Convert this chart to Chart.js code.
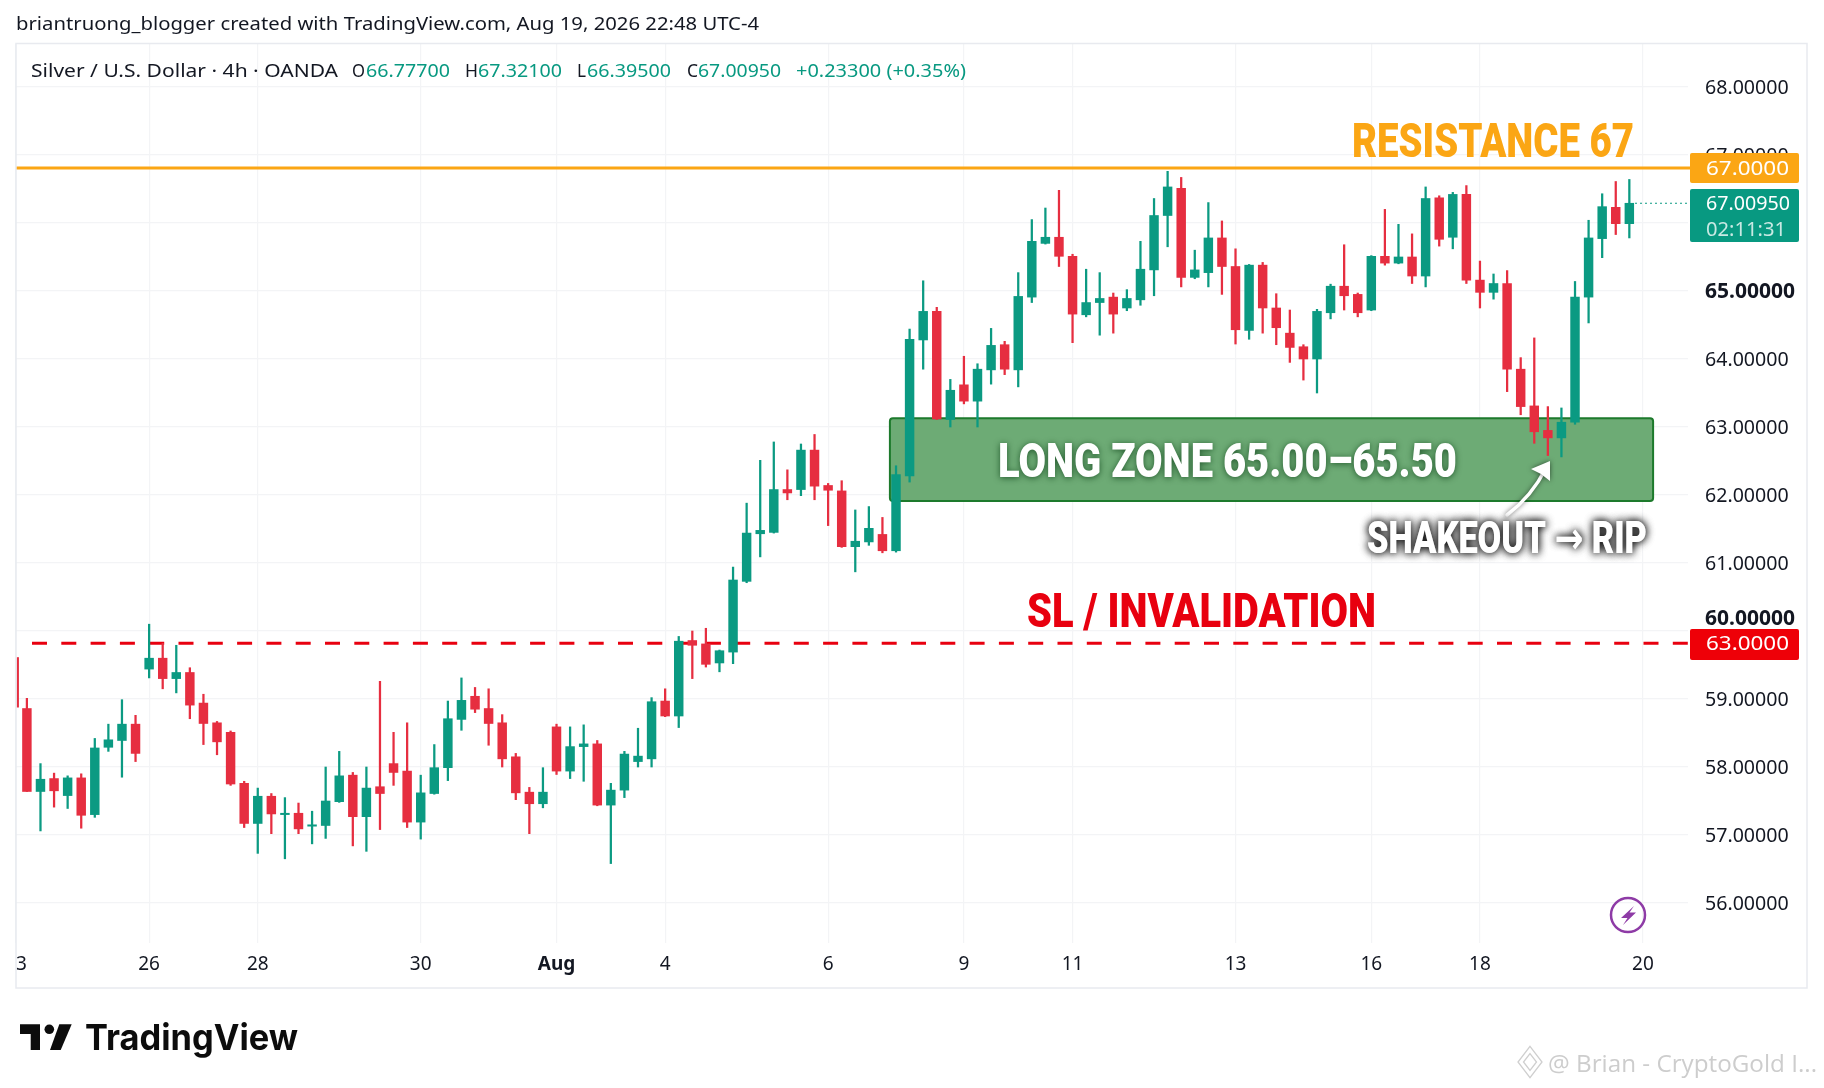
<!DOCTYPE html>
<html>
<head>
<meta charset="utf-8">
<title>Silver / U.S. Dollar 4h</title>
<script src="https://cdn.jsdelivr.net/npm/chart.js@4/dist/chart.umd.min.js"></script>
<style>
html,body{margin:0;padding:0;background:#fff}
canvas{display:block}
</style>
</head>
<body>
<canvas id="c" width="1824" height="1088" style="width:1824px;height:1088px"></canvas>
<script>
const opens = [null,58.86,57.64,57.83,57.58,57.84,57.30,58.29,58.39,58.63,
59.44,59.60,59.30,59.39,58.94,58.65,58.51,57.76,57.17,57.57,
57.30,57.32,57.13,57.14,57.49,57.88,57.27,57.71,58.05,57.94,
57.19,57.61,57.99,58.70,59.04,58.86,58.65,58.15,57.63,57.46,
58.59,57.94,58.30,58.34,57.44,57.66,58.08,58.12,58.97,58.75,
59.86,59.81,59.53,59.69,60.73,61.43,61.45,62.08,62.08,62.66,
62.14,62.06,61.24,61.31,61.42,61.18,62.28,64.28,64.70,63.11,
63.62,63.38,63.84,64.21,63.84,64.91,65.70,65.79,65.51,64.65,
64.83,64.91,64.75,64.87,65.31,66.11,66.51,65.20,65.27,65.78,
65.36,64.42,65.38,64.75,64.38,64.18,64.00,64.68,65.07,64.95,
64.72,65.51,65.41,65.50,65.22,66.37,65.79,66.42,65.16,64.98,
65.11,63.85,63.31,62.95,62.84,63.07,64.91,65.77,66.23,65.99];
const closes = [null,57.64,57.82,57.65,57.84,57.29,58.28,58.40,58.63,58.20,
59.60,59.30,59.39,58.91,58.64,58.37,57.75,57.17,57.57,57.31,
57.32,57.09,57.15,57.50,57.87,57.27,57.69,57.61,57.92,57.19,
57.62,57.99,58.71,58.98,58.85,58.64,58.12,57.62,57.46,57.63,
57.94,58.30,58.34,57.44,57.66,58.19,58.16,58.96,58.75,59.85,
59.79,59.51,59.71,60.75,61.44,61.48,62.08,62.03,62.66,62.13,
62.07,61.24,61.32,61.51,61.18,62.30,64.29,64.70,63.12,63.54,
63.38,63.85,64.20,63.85,64.92,65.73,65.79,65.51,64.66,64.83,
64.89,64.66,64.89,65.32,66.11,66.53,65.20,65.31,65.78,65.36,
64.43,65.38,64.75,64.46,64.17,64.00,64.70,65.07,64.93,64.68,
65.51,65.41,65.50,65.22,66.36,65.76,66.42,65.16,64.98,65.11,
63.85,63.30,62.93,62.84,63.07,64.91,65.78,66.24,65.99,66.29];
const highs = [59.61,59.01,58.05,57.91,57.87,57.90,58.42,58.63,58.99,58.76,
60.10,59.82,59.79,59.46,59.07,58.67,58.53,57.79,57.69,57.61,
57.55,57.47,57.35,58.00,58.23,57.92,58.00,59.26,58.51,58.65,
57.88,58.33,58.97,59.31,59.17,59.15,58.77,58.20,57.70,57.99,
58.63,58.59,58.62,58.39,57.76,58.23,58.57,59.02,59.15,59.92,
60.00,60.04,59.72,60.94,61.88,62.51,62.78,62.37,62.75,62.89,
62.17,62.21,61.78,61.83,61.67,62.43,64.44,65.15,64.76,63.70,
64.04,63.93,64.45,64.26,65.27,66.05,66.22,66.48,65.54,65.32,
65.27,64.97,65.02,65.73,66.36,66.76,66.67,65.60,66.30,66.03,
65.62,65.39,65.42,64.96,64.72,64.21,64.73,65.10,65.68,64.97,
65.52,66.20,65.98,65.84,66.53,66.40,66.45,66.55,65.44,65.25,
65.30,64.02,64.31,63.30,63.28,65.14,66.04,66.43,66.61,66.64];
const lows = [58.88,57.64,57.06,57.41,57.39,57.10,57.26,58.23,57.85,58.08,
59.31,59.15,59.09,58.71,58.33,58.18,57.73,57.11,56.73,57.02,
56.65,57.02,56.87,56.95,57.48,56.84,56.76,57.08,57.73,57.11,
56.94,57.60,57.80,58.54,58.80,58.32,58.00,57.52,57.02,57.40,
57.89,57.83,57.79,57.43,56.58,57.55,58.00,58.00,58.74,58.58,
59.30,59.47,59.40,59.52,60.71,61.09,61.44,61.93,61.99,61.93,
61.55,61.23,60.87,61.26,61.15,61.16,62.19,63.85,63.11,63.00,
63.34,63.00,63.63,63.77,63.59,64.83,65.69,65.36,64.24,64.62,
64.35,64.38,64.71,64.79,64.93,65.65,65.06,65.18,65.06,64.95,
64.22,64.29,64.38,64.21,63.95,63.69,63.50,64.59,64.72,64.62,
64.71,65.38,65.40,65.11,65.06,65.66,65.62,65.11,64.75,64.88,
63.52,63.18,62.76,62.58,62.56,63.04,64.53,65.49,65.83,65.78];
// first bar is cut by the pane edge, so it sits a third of a bar right of slot 0
const barSlots = opens.map((_, i) => i === 0 ? 0.33 : i);

const timeTickSlots  = [0.1974, 10, 18, 30, 40, 48, 60, 70, 78, 90, 100, 108, 120];
const timeTickLabels = ['23', '26', '28', '30', 'Aug', '4', '6', '9', '11', '13', '16', '18', '20'];
const priceTicks = [56, 57, 58, 59, 60, 61, 62, 63, 64, 65, 66, 67, 68];

const resistanceLevel = 66.81;
const stopLevel = 59.82;
const zoneTop = 63.13, zoneBottom = 61.91;
const zoneStartSlot = 64.55, zoneEndSlot = 120.75;
const lastPrice = 66.29;

const UP = '#0b9a82', DOWN = '#e62e40';
const isUp = i => closes[i] >= opens[i];
const uiFont = '"Noto Sans","Open Sans",sans-serif';
const condFont = 'Roboto,"DejaVu Sans",sans-serif';

function fit(ctx, text, x, y, w, font, color) {
  ctx.save();
  ctx.font = font; ctx.fillStyle = color; ctx.textBaseline = 'alphabetic'; ctx.textAlign = 'left';
  const m = ctx.measureText(text).width;
  ctx.translate(x, y); ctx.scale(w / m, 1);
  ctx.fillText(text, 0, 0);
  ctx.restore();
}
function roundBox(ctx, x, y, w, h, r, color) {
  ctx.fillStyle = color;
  ctx.beginPath(); ctx.roundRect(x, y, w, h, r); ctx.fill();
}

const tvPlugin = {
  id: 'tv',
  beforeDraw(chart) {
    const ctx = chart.ctx, ys = chart.scales.y;
    ctx.save();
    ctx.fillStyle = '#ffffff'; ctx.fillRect(0, 0, 1824, 1088);
    ctx.restore();
    ys.getLabelItems().forEach((item, i) => {
      const raised = item.label === '60.00000' ? 13 : 0;
      item.options.translation[1] = ys.getPixelForValue(priceTicks[i]) + 1.5 - raised;
    });
  },
  beforeDatasetsDraw(chart) {
    const ctx = chart.ctx, xs = chart.scales.x, ys = chart.scales.y, a = chart.chartArea;
    ctx.save();
    // resistance line
    const ry = ys.getPixelForValue(resistanceLevel);
    ctx.strokeStyle = '#fba614'; ctx.lineWidth = 3;
    ctx.beginPath(); ctx.moveTo(a.left, ry); ctx.lineTo(1690, ry); ctx.stroke();
    // stop line
    const sy = ys.getPixelForValue(stopLevel);
    ctx.strokeStyle = '#e8000f'; ctx.lineWidth = 3.2; ctx.setLineDash([15, 14.3]);
    ctx.beginPath(); ctx.moveTo(32, sy); ctx.lineTo(1690, sy); ctx.stroke();
    ctx.setLineDash([]);
    // long zone
    const zx0 = xs.getPixelForValue(zoneStartSlot), zx1 = xs.getPixelForValue(zoneEndSlot);
    const zy0 = ys.getPixelForValue(zoneTop), zy1 = ys.getPixelForValue(zoneBottom);
    ctx.fillStyle = '#6dab75'; ctx.strokeStyle = '#1d7a2c'; ctx.lineWidth = 2;
    ctx.beginPath(); ctx.roundRect(zx0, zy0, zx1 - zx0, zy1 - zy0, 3); ctx.fill(); ctx.stroke();
    // last price dotted
    const ly = ys.getPixelForValue(lastPrice);
    ctx.strokeStyle = UP; ctx.lineWidth = 1; ctx.setLineDash([2, 3]);
    ctx.beginPath(); ctx.moveTo(1635, ly); ctx.lineTo(a.right, ly); ctx.stroke();
    ctx.restore();
  },
  afterDatasetsDraw(chart) {
    const ctx = chart.ctx;
    ctx.save();
    // mask the clipped left part of the first date label
    ctx.fillStyle = '#ffffff'; ctx.fillRect(0, 945, 16, 40);
    // frame
    ctx.strokeStyle = '#e8eaef'; ctx.lineWidth = 1.5;
    ctx.strokeRect(16, 43.5, 1791, 944.5);

    // header
    fit(ctx, 'briantruong_blogger created with TradingView.com, Aug 19, 2026 22:48 UTC-4', 16, 30, 743, '18px ' + uiFont, '#131722');
    fit(ctx, 'Silver / U.S. Dollar · 4h · OANDA', 31, 77, 307, '18px ' + uiFont, '#131722');
    const g = '#089981', k = '#131722', lf = '18px ' + uiFont;
    fit(ctx, 'O', 352, 77, 13, lf, k);   fit(ctx, '66.77700', 366, 77, 84, lf, g);
    fit(ctx, 'H', 465, 77, 13, lf, k);   fit(ctx, '67.32100', 478, 77, 84, lf, g);
    fit(ctx, 'L', 577, 77, 9, lf, k);    fit(ctx, '66.39500', 587, 77, 84, lf, g);
    fit(ctx, 'C', 687, 77, 11, lf, k);   fit(ctx, '67.00950', 698, 77, 83, lf, g);
    fit(ctx, '+0.23300 (+0.35%)', 796, 77, 170, lf, g);

    // price boxes
    const bf = '20px ' + uiFont;
    roundBox(ctx, 1690, 153, 109, 30, 2, '#fba614');
    fit(ctx, '67.0000', 1706, 175, 83, bf, '#ffffff');
    roundBox(ctx, 1690, 189, 109, 53, 2, '#089981');
    fit(ctx, '67.00950', 1706, 210, 84, bf, '#ffffff');
    fit(ctx, '02:11:31', 1706, 236, 80, bf, 'rgba(255,255,255,0.78)');
    roundBox(ctx, 1690, 629, 109, 31, 2, '#ee0008');
    fit(ctx, '63.0000', 1706, 650, 83, bf, '#ffffff');

    // big labels
    fit(ctx, 'RESISTANCE 67', 1352, 157, 282, '900 48px ' + condFont, '#fba614');
    fit(ctx, 'SL / INVALIDATION', 1027, 627, 349, '900 48px ' + condFont, '#e8000f');
    ctx.save();
    ctx.shadowColor = 'rgba(10,60,20,0.75)'; ctx.shadowBlur = 6; ctx.shadowOffsetY = 1;
    fit(ctx, 'LONG ZONE 65.00–65.50', 998, 477, 459, '900 48px ' + condFont, '#ffffff');
    ctx.restore();

    // arrow
    ctx.save();
    ctx.shadowColor = 'rgba(0,0,0,0.55)'; ctx.shadowBlur = 5;
    ctx.strokeStyle = '#ffffff'; ctx.lineWidth = 3.5; ctx.lineCap = 'round';
    ctx.beginPath(); ctx.moveTo(1507, 515); ctx.quadraticCurveTo(1532, 496, 1546, 468); ctx.stroke();
    ctx.fillStyle = '#ffffff';
    ctx.beginPath(); ctx.moveTo(1550, 461); ctx.lineTo(1531, 469); ctx.lineTo(1541, 474); ctx.lineTo(1550, 481); ctx.closePath(); ctx.fill();
    ctx.restore();

    // shakeout
    ctx.save();
    ctx.shadowColor = 'rgba(0,0,0,0.85)'; ctx.shadowBlur = 9;
    for (let n = 0; n < 2; n++) fit(ctx, 'SHAKEOUT → RIP', 1367, 553, 280, '900 44px ' + condFont, '#ffffff');
    ctx.restore();

    // lightning badge
    ctx.strokeStyle = '#8e3ba6'; ctx.lineWidth = 2.5;
    ctx.beginPath(); ctx.arc(1628, 915, 17, 0, Math.PI * 2); ctx.stroke();
    ctx.fillStyle = '#8e3ba6';
    ctx.beginPath();
    ctx.moveTo(1634, 906); ctx.lineTo(1621, 918); ctx.lineTo(1627.5, 918); ctx.lineTo(1623, 925);
    ctx.lineTo(1636, 912.5); ctx.lineTo(1629.5, 912.5); ctx.closePath(); ctx.fill();

    // TradingView logo
    ctx.fillStyle = '#0c0c0c';
    ctx.beginPath();
    ctx.moveTo(20, 1024.3); ctx.lineTo(40, 1024.3); ctx.lineTo(40, 1050); ctx.lineTo(30.7, 1050);
    ctx.lineTo(30.7, 1034); ctx.lineTo(20, 1034); ctx.closePath(); ctx.fill();
    ctx.beginPath(); ctx.arc(49.3, 1029.3, 4.8, 0, Math.PI * 2); ctx.fill();
    ctx.beginPath();
    ctx.moveTo(59.3, 1024.3); ctx.lineTo(71.7, 1024.3); ctx.lineTo(60.7, 1050); ctx.lineTo(50, 1050); ctx.closePath(); ctx.fill();
    fit(ctx, 'TradingView', 85, 1050, 213, '700 36px Inter,"Noto Sans",sans-serif', '#0c0c0c');

    // watermark
    ctx.strokeStyle = '#cfcfcf'; ctx.lineWidth = 1.3;
    [[1530, 1062, 12], [1530, 1062, 6.5]].forEach(([cx, cy, r]) => {
      ctx.beginPath(); ctx.moveTo(cx, cy - r * 1.3); ctx.lineTo(cx + r, cy); ctx.lineTo(cx, cy + r * 1.3); ctx.lineTo(cx - r, cy); ctx.closePath(); ctx.stroke();
    });
    fit(ctx, '@ Brian - CryptoGold I...', 1548, 1072, 269, '24px "Open Sans",sans-serif', '#cdcdcd');
    ctx.restore();
  }
};

new Chart(document.getElementById('c'), {
  type: 'bar',
  data: {
    datasets: [
      {
        label: 'Wick',
        data: highs.map((h, i) => ({ x: barSlots[i], y: [lows[i], h] })),
        backgroundColor: highs.map((_, i) => (i === 0 || !isUp(i)) ? DOWN : UP),
        barThickness: 1.6, grouped: false, order: 2
      },
      {
        label: 'Body',
        data: opens.map((o, i) => o === null ? null : ({ x: barSlots[i], y: [o, closes[i]] })).filter(Boolean),
        backgroundColor: opens.map((o, i) => o === null ? null : (isUp(i) ? UP : DOWN)).filter(Boolean),
        barThickness: 8.8, grouped: false, order: 1
      }
    ]
  },
  options: {
    responsive: false,
    animation: false,
    devicePixelRatio: 1,
    layout: { autoPadding: false, padding: { left: 16, top: 44, right: 0, bottom: 0 } },
    plugins: { legend: { display: false }, tooltip: { enabled: false } },
    scales: {
      x: {
        type: 'linear',
        offset: false,
        min: 0.1974, max: 123.32,
        grid: { color: '#f3f4f6', lineWidth: 1.2, drawTicks: false, offset: false },
        border: { display: false },
        afterBuildTicks(s) { s.ticks = timeTickSlots.map(v => ({ value: v })); },
        afterFit(s) { s.height = 145; s.paddingLeft = 0; s.paddingRight = 0; },
        ticks: {
          autoSkip: false, maxRotation: 0, padding: 10, color: '#131722',
          font: c => ({ family: uiFont, size: 19, weight: (c.tick && timeTickLabels[c.index] === 'Aug') ? 'bold' : 'normal' }),
          callback: (v, i) => timeTickLabels[i]
        }
      },
      y: {
        position: 'right',
        min: 55.412, max: 68.632,
        grid: { color: '#f3f4f6', lineWidth: 1.2, drawTicks: false },
        border: { display: false },
        afterBuildTicks(s) { s.ticks = priceTicks.map(v => ({ value: v })); },
        afterFit(s) { s.width = 136; s.paddingTop = 0; s.paddingBottom = 0; },
        ticks: {
          autoSkip: false, padding: 17, color: '#131722', align: 'center', crossAlign: 'near',
          font: c => {
            const strong = c.tick && (c.tick.value === 65 || c.tick.value === 60);
            return { family: uiFont, size: strong ? 21 : 19.6, weight: strong ? 'bold' : 'normal' };
          },
          callback: v => v.toFixed(5)
        }
      }
    }
  },
  plugins: [tvPlugin]
});
</script>
</body>
</html>
